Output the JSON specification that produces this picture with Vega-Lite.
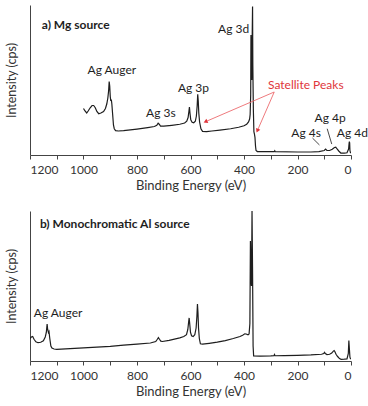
{
  "$schema": "https://vega.github.io/schema/vega-lite/v6.json",
  "background": "white",
  "spacing": 19,
  "config": {
    "view": {"stroke": null},
    "font": "Lato",
    "axis": {"grid": false, "domainColor": "#444", "tickColor": "#444", "labelColor": "#333", "titleColor": "#333", "titleFontWeight": "normal", "labelFont": "Lato", "titleFont": "Lato"},
    "axisX": {"values": [0, 200, 400, 600, 800, 1000, 1200], "format": "d", "tickSize": 4, "labelFontSize": 12, "labelPadding": 5, "titleFontSize": 13, "titlePadding": 4},
    "axisY": {"labels": false, "ticks": false, "titleFontSize": 12.5, "titlePadding": 12}
  },
  "datasets": {
    "specA": [
      {"ev":1000,"val":31},{"ev":995,"val":29.5},{"ev":988,"val":28},{"ev":982,"val":29.5},{"ev":975,"val":31.5},{"ev":968,"val":33},{"ev":962,"val":33},{"ev":956,"val":31.5},{"ev":950,"val":29},{"ev":943,"val":27.5},{"ev":935,"val":28},{"ev":925,"val":29},{"ev":918,"val":31},{"ev":913,"val":34},{"ev":909,"val":38},{"ev":906,"val":43},{"ev":904,"val":48.9},{"ev":902,"val":46},{"ev":900,"val":39},{"ev":898,"val":36},{"ev":896,"val":37},{"ev":894,"val":34},{"ev":891,"val":27},{"ev":888,"val":20},{"ev":885,"val":17.5},{"ev":880,"val":16.2},{"ev":870,"val":16},{"ev":850,"val":16.2},{"ev":800,"val":17.3},{"ev":760,"val":18.3},{"ev":735,"val":19},{"ev":726,"val":19.8},{"ev":721,"val":21.2},{"ev":717,"val":20.5},{"ev":712,"val":19.3},{"ev":700,"val":19.2},{"ev":670,"val":19.8},{"ev":640,"val":20.5},{"ev":622,"val":21.3},{"ev":614,"val":22.5},{"ev":609,"val":25},{"ev":606,"val":29},{"ev":604,"val":32},{"ev":602,"val":28},{"ev":599,"val":23.5},{"ev":594,"val":21.8},{"ev":588,"val":21.5},{"ev":582,"val":22.5},{"ev":578,"val":26},{"ev":575,"val":33},{"ev":573,"val":40.5},{"ev":571,"val":36},{"ev":569,"val":28},{"ev":566,"val":22},{"ev":561,"val":17.5},{"ev":555,"val":15.8},{"ev":540,"val":15.6},{"ev":520,"val":16},{"ev":490,"val":16.6},{"ev":450,"val":17.5},{"ev":420,"val":18.5},{"ev":400,"val":19.5},{"ev":390,"val":20.5},{"ev":383,"val":22},{"ev":379,"val":24},{"ev":377,"val":27},{"ev":375,"val":40},{"ev":374,"val":80},{"ev":373,"val":60},{"ev":371,"val":50},{"ev":369,"val":85},{"ev":368,"val":99},{"ev":367,"val":60},{"ev":365,"val":30},{"ev":363,"val":15.5},{"ev":361,"val":14},{"ev":359,"val":11.8},{"ev":357,"val":6},{"ev":355,"val":3},{"ev":350,"val":2.3},{"ev":300,"val":2.2},{"ev":287,"val":2.2},{"ev":285,"val":2.8},{"ev":283,"val":2.2},{"ev":200,"val":2},{"ev":150,"val":2},{"ev":120,"val":2.2},{"ev":100,"val":3},{"ev":95,"val":3.9},{"ev":90,"val":3},{"ev":80,"val":3},{"ev":70,"val":3.8},{"ev":62,"val":5},{"ev":57,"val":5.2},{"ev":52,"val":4},{"ev":45,"val":2.5},{"ev":38,"val":1.3},{"ev":25,"val":1.2},{"ev":15,"val":1.5},{"ev":9,"val":4},{"ev":7,"val":8},{"ev":6,"val":9},{"ev":5,"val":8},{"ev":4,"val":3},{"ev":2,"val":1.5},{"ev":0,"val":1.5}
    ],
    "specB": [
      {"ev":1200,"val":15},{"ev":1195,"val":16},{"ev":1190,"val":16.3},{"ev":1185,"val":14.5},{"ev":1178,"val":12.8},{"ev":1170,"val":12.2},{"ev":1160,"val":12.5},{"ev":1150,"val":13.5},{"ev":1143,"val":16},{"ev":1139,"val":19},{"ev":1136,"val":24.6},{"ev":1134,"val":21},{"ev":1131,"val":19},{"ev":1129,"val":19.7},{"ev":1126,"val":15},{"ev":1122,"val":10},{"ev":1118,"val":8.6},{"ev":1110,"val":8},{"ev":1100,"val":7.8},{"ev":1050,"val":8.2},{"ev":1000,"val":8.7},{"ev":950,"val":9.2},{"ev":900,"val":9.8},{"ev":850,"val":10.6},{"ev":800,"val":11.3},{"ev":750,"val":12},{"ev":730,"val":13},{"ev":724,"val":14.5},{"ev":720,"val":15.6},{"ev":716,"val":14.5},{"ev":711,"val":13.2},{"ev":705,"val":13},{"ev":680,"val":13.8},{"ev":660,"val":14.6},{"ev":640,"val":15.4},{"ev":625,"val":16.3},{"ev":615,"val":17.5},{"ev":610,"val":21},{"ev":607,"val":26},{"ev":605,"val":28.7},{"ev":603,"val":25},{"ev":600,"val":19},{"ev":596,"val":16.8},{"ev":590,"val":16.3},{"ev":584,"val":17.5},{"ev":579,"val":22},{"ev":576,"val":30},{"ev":574,"val":38},{"ev":572,"val":32},{"ev":570,"val":22},{"ev":567,"val":15},{"ev":563,"val":11.5},{"ev":555,"val":11.2},{"ev":530,"val":11.8},{"ev":500,"val":12.6},{"ev":470,"val":13.6},{"ev":440,"val":15},{"ev":415,"val":16.3},{"ev":405,"val":17.2},{"ev":397,"val":18.1},{"ev":392,"val":18},{"ev":385,"val":17.4},{"ev":381,"val":18},{"ev":378,"val":25},{"ev":376,"val":80},{"ev":374,"val":55},{"ev":372,"val":50},{"ev":370,"val":100},{"ev":368,"val":60},{"ev":366,"val":10},{"ev":364,"val":3.4},{"ev":340,"val":3.3},{"ev":300,"val":3.4},{"ev":288,"val":3.5},{"ev":286,"val":4.3},{"ev":284,"val":3.5},{"ev":250,"val":3.6},{"ev":200,"val":3.8},{"ev":150,"val":4.1},{"ev":110,"val":4.5},{"ev":102,"val":5},{"ev":99,"val":5.8},{"ev":96,"val":5},{"ev":90,"val":4.3},{"ev":80,"val":4.5},{"ev":72,"val":5.3},{"ev":66,"val":6.6},{"ev":63,"val":6.9},{"ev":60,"val":6.2},{"ev":56,"val":4.5},{"ev":50,"val":3},{"ev":43,"val":1.6},{"ev":37,"val":1.1},{"ev":25,"val":1.2},{"ev":15,"val":1.4},{"ev":10,"val":5},{"ev":8,"val":13.6},{"ev":6,"val":8},{"ev":4,"val":2.5},{"ev":2,"val":1.5},{"ev":0,"val":1.5}
    ],
    "titleA": [{"ev":1156,"val":86.7,"label":"a) Mg source"}],
    "titleB": [{"ev":1163,"val":91.3,"label":"b) Monochromatic Al source"}],
    "labA": [
      {"ev":894,"val":56.7,"label":"Ag Auger"},
      {"ev":711,"val":28,"label":"Ag 3s"},
      {"ev":589,"val":44.5,"label":"Ag 3p"},
      {"ev":439,"val":84,"label":"Ag 3d"},
      {"ev":168,"val":15,"label":"Ag 4s"},
      {"ev":78,"val":25,"label":"Ag 4p"},
      {"ev":-5,"val":15,"label":"Ag 4d"}
    ],
    "labB": [{"ev":1095,"val":32,"label":"Ag Auger"}],
    "redA": [{"ev":169,"val":47,"label":"Satellite Peaks"}],
    "arrowA": [
      {"ev":287,"val":42,"ev2":544,"val2":22.2,"target":"3p side"},
      {"ev":287,"val":42,"ev2":350,"val2":16.2,"target":"3d side"}
    ],
    "leaderA": [
      {"ev":144,"val":11.3,"ev2":118,"val2":6.7,"peak":"4s"},
      {"ev":89,"val":17.5,"ev2":72,"val2":7.3,"peak":"4p"}
    ]
  },
  "vconcat": [
    {
      "width": 321,
      "height": 150,
      "encoding": {
        "x": {"field": "ev", "type": "quantitative", "scale": {"domain": [0, 1200], "reverse": true, "nice": false}, "axis": {"title": "Binding Energy (eV)"}},
        "y": {"field": "val", "type": "quantitative", "scale": {"domain": [0, 100], "nice": false}, "axis": {"title": "Intensity (cps)"}}
      },
      "layer": [
        {"data": {"name": "specA"}, "mark": {"type": "line", "color": "#1e1e1e", "strokeWidth": 1.2, "clip": true}},
        {"data": {"name": "titleA"}, "mark": {"type": "text", "align": "left", "baseline": "middle", "fontWeight": "bold", "fontSize": 12, "color": "#1e1e1e"}, "encoding": {"text": {"field": "label"}}},
        {"data": {"name": "labA"}, "mark": {"type": "text", "align": "center", "baseline": "middle", "fontSize": 12, "color": "#1e1e1e"}, "encoding": {"text": {"field": "label"}}},
        {"data": {"name": "redA"}, "mark": {"type": "text", "align": "center", "baseline": "middle", "fontSize": 12, "color": "#e0353b"}, "encoding": {"text": {"field": "label"}}},
        {"data": {"name": "arrowA"}, "mark": {"type": "rule", "color": "#ec6b6e", "strokeWidth": 0.9}, "encoding": {"x2": {"field": "ev2"}, "y2": {"field": "val2"}}},
        {"data": {"name": "leaderA"}, "mark": {"type": "rule", "color": "#333", "strokeWidth": 0.9}, "encoding": {"x2": {"field": "ev2"}, "y2": {"field": "val2"}}},
        {"data": {"name": "arrowA"}, "transform": [{"filter": "datum.target == '3p side'"}], "mark": {"type": "point", "shape": "triangle-up", "filled": true, "color": "#e0353b", "size": 22, "angle": 246, "opacity": 1}, "encoding": {"x": {"field": "ev2", "type": "quantitative"}, "y": {"field": "val2", "type": "quantitative"}}},
        {"data": {"name": "arrowA"}, "transform": [{"filter": "datum.target == '3d side'"}], "mark": {"type": "point", "shape": "triangle-up", "filled": true, "color": "#e0353b", "size": 22, "angle": 203, "opacity": 1}, "encoding": {"x": {"field": "ev2", "type": "quantitative"}, "y": {"field": "val2", "type": "quantitative"}}}
      ]
    },
    {
      "width": 321,
      "height": 150,
      "encoding": {
        "x": {"field": "ev", "type": "quantitative", "scale": {"domain": [0, 1200], "reverse": true, "nice": false}, "axis": {"title": "Binding Energy (eV)"}},
        "y": {"field": "val", "type": "quantitative", "scale": {"domain": [0, 100], "nice": false}, "axis": {"title": "Intensity (cps)"}}
      },
      "layer": [
        {"data": {"name": "specB"}, "mark": {"type": "line", "color": "#1e1e1e", "strokeWidth": 1.2, "clip": true}},
        {"data": {"name": "titleB"}, "mark": {"type": "text", "align": "left", "baseline": "middle", "fontWeight": "bold", "fontSize": 12, "color": "#1e1e1e"}, "encoding": {"text": {"field": "label"}}},
        {"data": {"name": "labB"}, "mark": {"type": "text", "align": "center", "baseline": "middle", "fontSize": 12, "color": "#1e1e1e"}, "encoding": {"text": {"field": "label"}}}
      ]
    }
  ]
}
